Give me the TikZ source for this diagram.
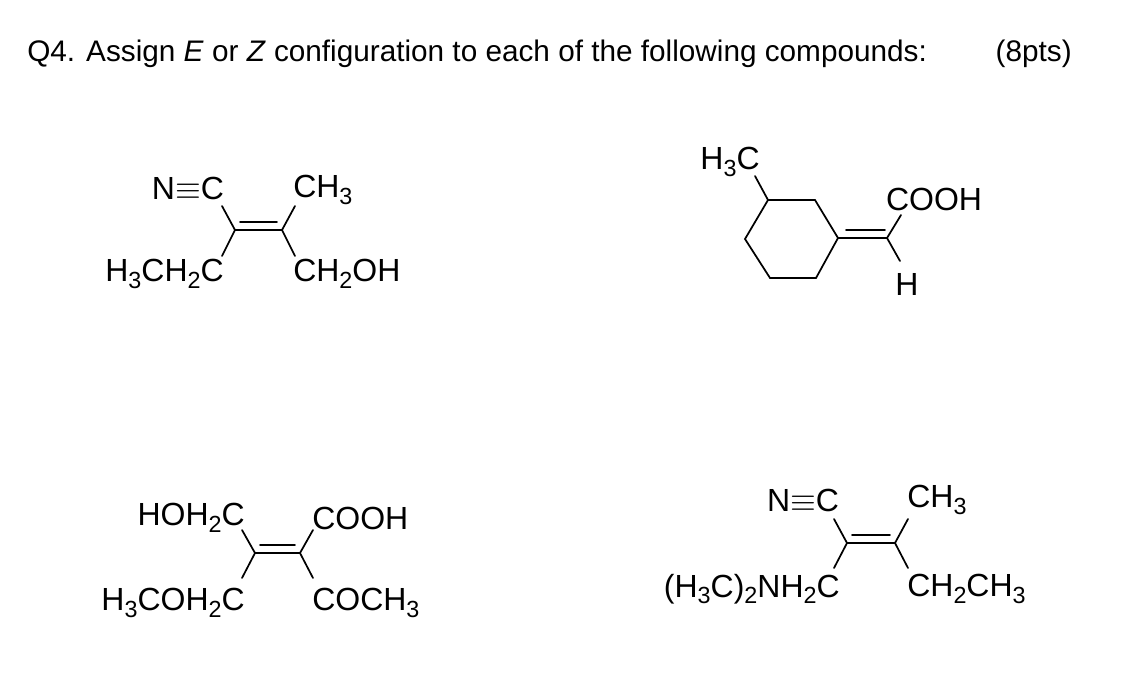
\documentclass[tikz,border=0pt]{standalone}
\usepackage{fontspec}
\setmainfont{Liberation Sans}
\newcommand{\ssub}[1]{\raisebox{-5pt}{\fontsize{17.5}{18}\selectfont #1}}
\tikzset{
  lab/.style={inner sep=0pt,font=\fontsize{24}{26}\selectfont},
  bond/.style={line width=1.3pt,line cap=round},
}
\begin{document}
\begin{tikzpicture}[x=0.75pt,y=-0.75pt]
\useasboundingbox (0,0) rectangle (1126,696);
\node[lab,anchor=west,font=\fontsize{22.3}{25}\selectfont] (title) at (27,54) {Q4. Assign \textit{E} or \textit{Z} configuration to each of the following compounds:};
\node[lab,anchor=east,font=\fontsize{22.3}{25}\selectfont] (pts) at (1072,54) {(8pts)};
% molecule 1
\coordinate (a1) at (235,230); \coordinate (a2) at (282,230);
\coordinate (a1t) at (222,206); \coordinate (a1b) at (222,256);
\coordinate (a2t) at (295,206); \coordinate (a2b) at (295,256);
\node[lab] (m1a) at (188,188) {N$\equiv$C};
\node[lab,anchor=west] (m1b) at (293,190) {CH\ssub{3}};
\node[lab,anchor=east] (m1c) at (224,274) {H\ssub{3}CH\ssub{2}C};
\node[lab,anchor=west] (m1d) at (293,274) {CH\ssub{2}OH};
\draw[bond] (a1)--(a2) (240,222)--(277,222) (a1)--(a1t) (a1)--(a1b) (a2)--(a2t) (a2)--(a2b);
% molecule 2
\coordinate (r1) at (768,200); \coordinate (r2) at (815,200); \coordinate (r3) at (838,238);
\coordinate (r4) at (816,278); \coordinate (r5) at (770,278); \coordinate (r6) at (745,239);
\coordinate (e) at (887,238); \coordinate (me) at (755,176);
\coordinate (et) at (901,215); \coordinate (eb) at (900,261);
\node[lab] (m2a) at (730,162) {H\ssub{3}C};
\node[lab] (m2b) at (934,199) {COOH};
\node[lab] (m2c) at (907,284) {H};
\draw[bond] (r1)--(r2)--(r3)--(r4)--(r5)--(r6)--cycle (r1)--(me) (r3)--(e) (846,230)--(885,230) (e)--(et) (e)--(eb);
% molecule 3
\coordinate (b1) at (255,553); \coordinate (b2) at (300,553);
\coordinate (b1t) at (242,530); \coordinate (b1b) at (242,578);
\coordinate (b2t) at (313,530); \coordinate (b2b) at (313,578);
\node[lab,anchor=east] (m3a) at (245,518) {HOH\ssub{2}C};
\node[lab,anchor=west] (m3b) at (312,518) {COOH};
\node[lab,anchor=east] (m3c) at (245,603) {H\ssub{3}COH\ssub{2}C};
\node[lab,anchor=west] (m3d) at (312,603) {COCH\ssub{3}};
\draw[bond] (b1)--(b2) (260,545)--(295,545) (b1)--(b1t) (b1)--(b1b) (b2)--(b2t) (b2)--(b2b);
% molecule 4
\coordinate (c1) at (847,543); \coordinate (c2) at (895,543);
\coordinate (c1t) at (834,519); \coordinate (c1b) at (834,568);
\coordinate (c2t) at (908,519); \coordinate (c2b) at (908,568);
\node[lab] (m4a) at (803,500) {N$\equiv$C};
\node[lab,anchor=west] (m4b) at (907,500) {CH\ssub{3}};
\node[lab,anchor=east] (m4c) at (840,589) {(H\ssub{3}C)\ssub{2}NH\ssub{2}C};
\node[lab,anchor=west] (m4d) at (907,589) {CH\ssub{2}CH\ssub{3}};
\draw[bond] (c1)--(c2) (852,535)--(890,535) (c1)--(c1t) (c1)--(c1b) (c2)--(c2t) (c2)--(c2b);
\end{tikzpicture}
\end{document}
